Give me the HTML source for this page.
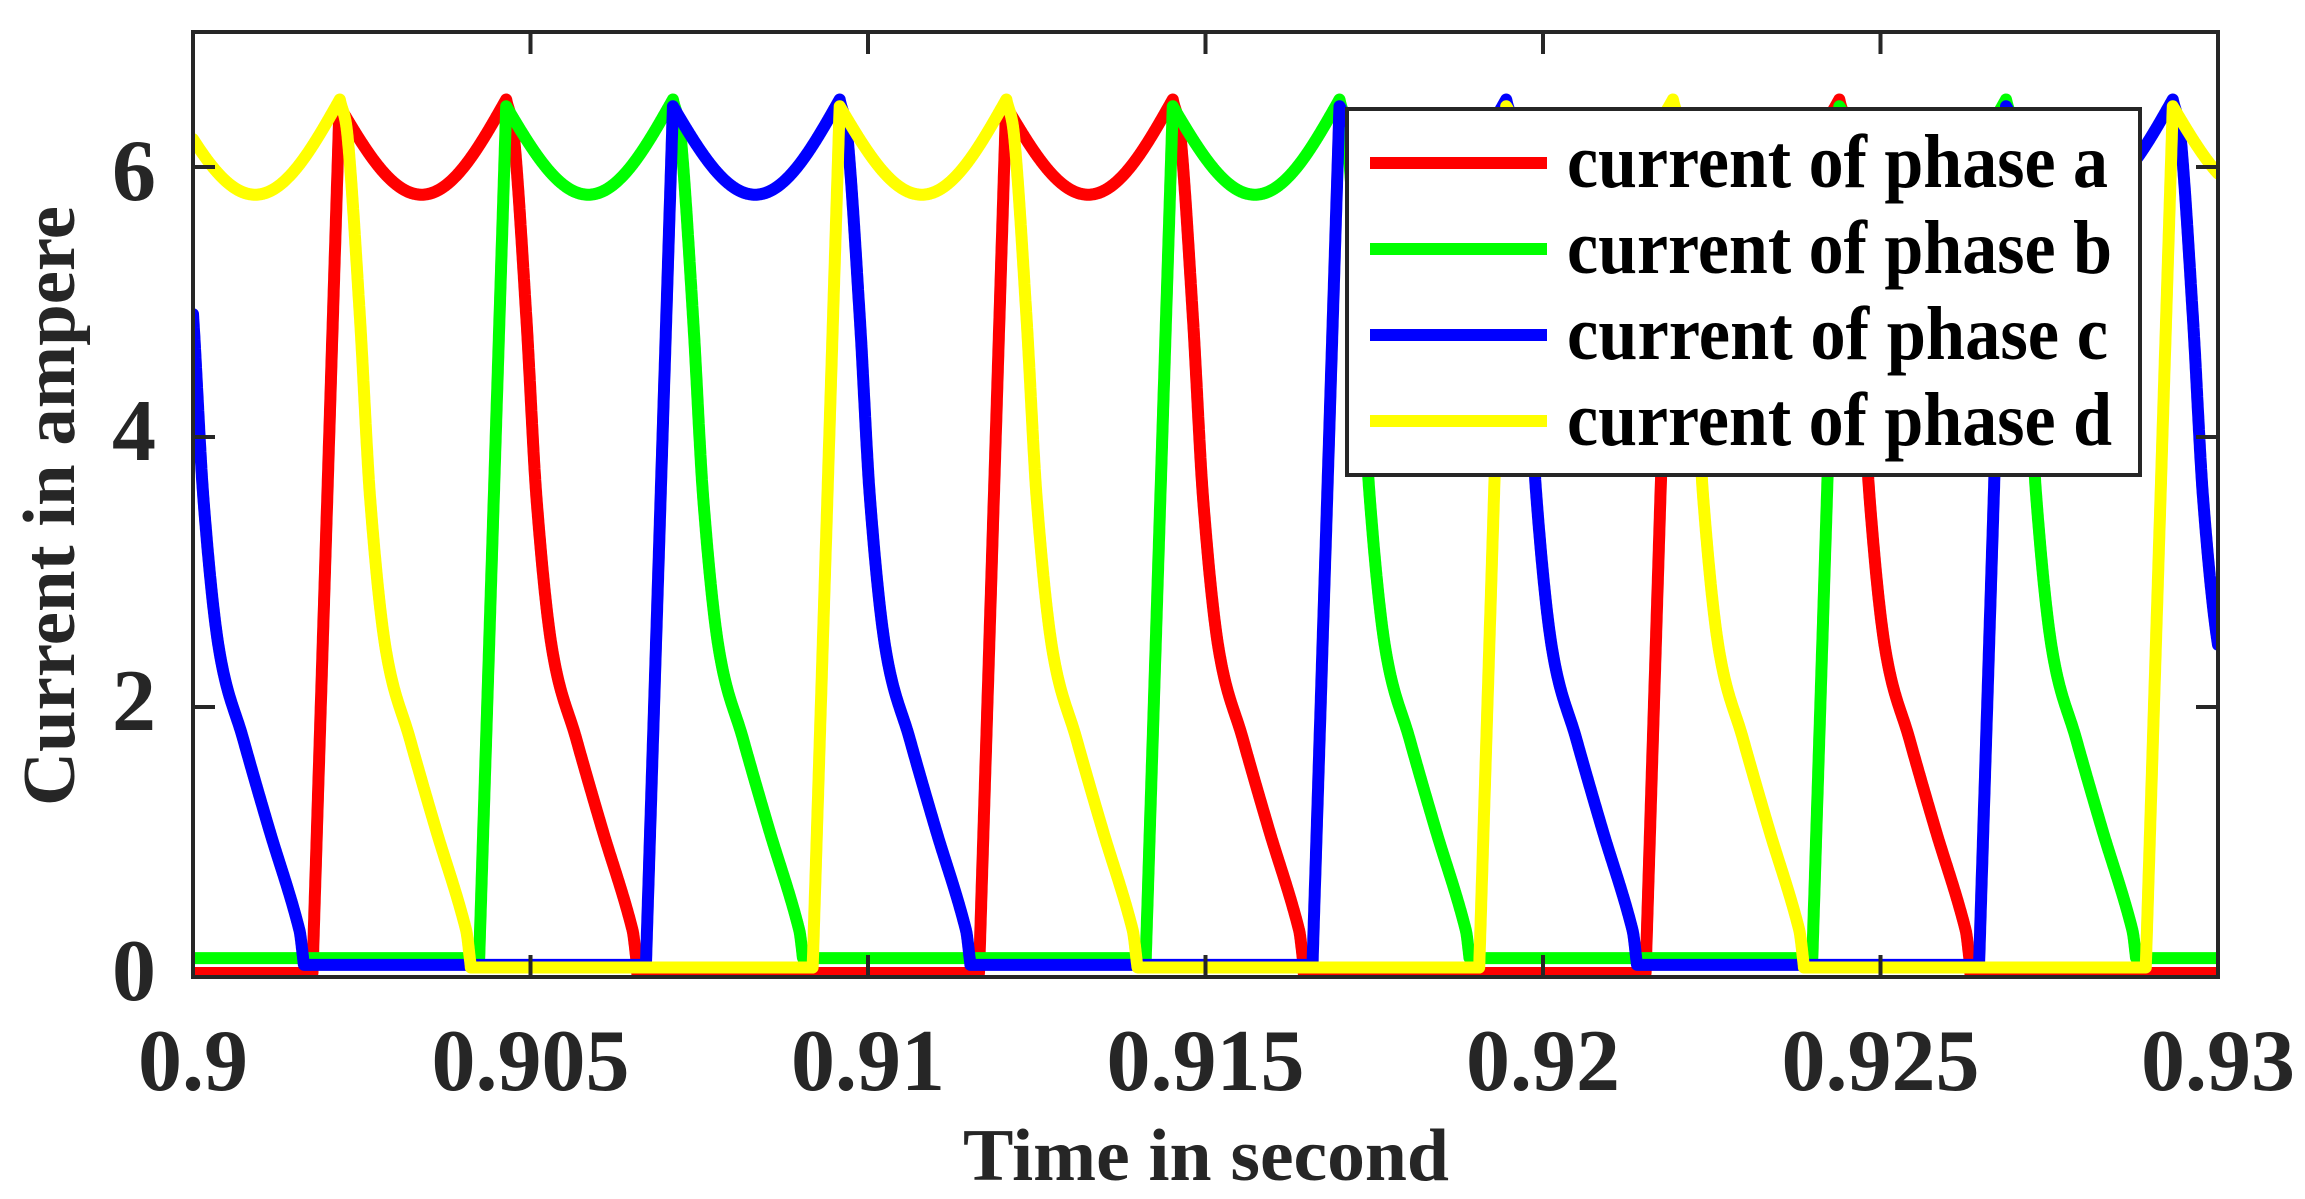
<!DOCTYPE html>
<html><head><meta charset="utf-8"><style>
html,body{margin:0;padding:0;background:#fff;}
svg{display:block;}
text{font-family:"Liberation Serif",serif;font-weight:bold;fill:#262626;}
</style></head><body>
<svg id="s" width="2305" height="1199" viewBox="0 0 2305 1199" xmlns="http://www.w3.org/2000/svg">
<defs><clipPath id="c"><rect x="193" y="20" width="2025" height="960"/></clipPath></defs>
<rect x="0" y="0" width="2305" height="1199" fill="#fff"/>
<g id="series" clip-path="url(#c)" fill="none" stroke-width="12" stroke-linejoin="round" stroke-linecap="round"></g>
<g stroke="#262626" stroke-width="4" fill="none">
<rect x="193" y="32" width="2025" height="945"/>
<path d="M530.5,977v-22M868,977v-22M1205.5,977v-22M1543,977v-22M1880.5,977v-22M530.5,32v22M868,32v22M1205.5,32v22M1543,32v22M1880.5,32v22M193,707h22M193,437h22M193,167h22M2218,707h-22M2218,437h-22M2218,167h-22"/>
</g>
<g font-size="88" text-anchor="middle">
<text x="193" y="1090">0.9</text>
<text x="530.5" y="1090">0.905</text>
<text x="868" y="1090">0.91</text>
<text x="1205.5" y="1090">0.915</text>
<text x="1543" y="1090">0.92</text>
<text x="1880.5" y="1090">0.925</text>
<text x="2218" y="1090">0.93</text>
</g>
<g font-size="88" text-anchor="end">
<text x="156" y="1000">0</text>
<text x="156" y="730">2</text>
<text x="156" y="460">4</text>
<text x="156" y="200">6</text>
</g>
<text x="963" y="1180" font-size="74" textLength="486" lengthAdjust="spacingAndGlyphs">Time in second</text>
<text transform="translate(74,806) rotate(-90)" x="0" y="0" font-size="74" textLength="600" lengthAdjust="spacingAndGlyphs">Current in ampere</text>
<rect x="1347" y="109" width="793" height="366" fill="#fff" stroke="#262626" stroke-width="4"/>
<g stroke-width="12">
<line x1="1370" y1="163" x2="1547" y2="163" stroke="#ff0000"/>
<line x1="1370" y1="249" x2="1547" y2="249" stroke="#00ff00"/>
<line x1="1370" y1="335" x2="1547" y2="335" stroke="#0000ff"/>
<line x1="1370" y1="421" x2="1547" y2="421" stroke="#ffff00"/>
</g>
<g font-size="76">
<text x="1567" y="187" textLength="541" lengthAdjust="spacingAndGlyphs" style="fill:#000">current of phase a</text>
<text x="1567" y="273" textLength="545" lengthAdjust="spacingAndGlyphs" style="fill:#000">current of phase b</text>
<text x="1567" y="359" textLength="541" lengthAdjust="spacingAndGlyphs" style="fill:#000">current of phase c</text>
<text x="1567" y="445" textLength="545" lengthAdjust="spacingAndGlyphs" style="fill:#000">current of phase d</text>
</g>
</svg>
<script>
(function(){
var X0=193,XS=2025/0.03,Y0=977,YS=135;
var P=0.009875,RISE=0.0004,DS=0.00287,DL=0.00194;
var dec=[[0,6.5],[0.00012,6.2],[0.0003,4.87],[0.00045,3.54],[0.00068,2.43],[0.00104,1.76],[0.00142,1.1],[0.00187,0.35],[0.00194,0.08]];
function cr(d){
 var n=dec.length;
 for(var i=0;i<n-1;i++){
  if(d>=dec[i][0]&&d<=dec[i+1][0]){
   var p0=dec[Math.max(i-1,0)],p1=dec[i],p2=dec[i+1],p3=dec[Math.min(i+2,n-1)];
   var h=p2[0]-p1[0],s=(d-p1[0])/h;
   var m1=(p2[1]-p0[1])/(p2[0]-p0[0]||1)*h, m2=(p3[1]-p1[1])/(p3[0]-p1[0]||1)*h;
   if(i==0) m1=(p2[1]-p1[1]);
   if(i==n-2) m2=(p2[1]-p1[1]);
   var s2=s*s,s3=s2*s;
   return (2*s3-3*s2+1)*p1[1]+(s3-2*s2+s)*m1+(-2*s3+3*s2)*p2[1]+(s3-s2)*m2;
  }
 }
 return dec[n-1][1];
}
function f(t,t0,L){
 var u=((t-t0)%P+P)%P;
 if(u<RISE) return L+(6.45-L)*u/RISE;
 if(u<DS){var s=(u-RISE)/(DS-RISE);return 6.45+0.05*s-0.68*Math.sin(Math.PI*s);}
 var d=u-DS;
 if(d<DL) return Math.max(cr(d),L);
 return L;
}
var S=[["#ff0000",0.90177,0.03],["#00ff00",0.90424,0.14],["#0000ff",0.90671,0.09],["#ffff00",0.90918,0.07]];
var g=document.getElementById("series");
S.forEach(function(sr){
 var p=[];
 for(var k=0;k<=12000;k++){
  var t=0.9+k*0.0000025;
  var v=f(t,sr[1],sr[2]);
  p.push((X0+(t-0.9)*XS).toFixed(1)+","+(Y0-v*YS).toFixed(1));
 }
 var el=document.createElementNS("http://www.w3.org/2000/svg","polyline");
 el.setAttribute("points",p.join(" "));
 el.setAttribute("stroke",sr[0]);
 g.appendChild(el);
});
})();
</script>
</body></html>
